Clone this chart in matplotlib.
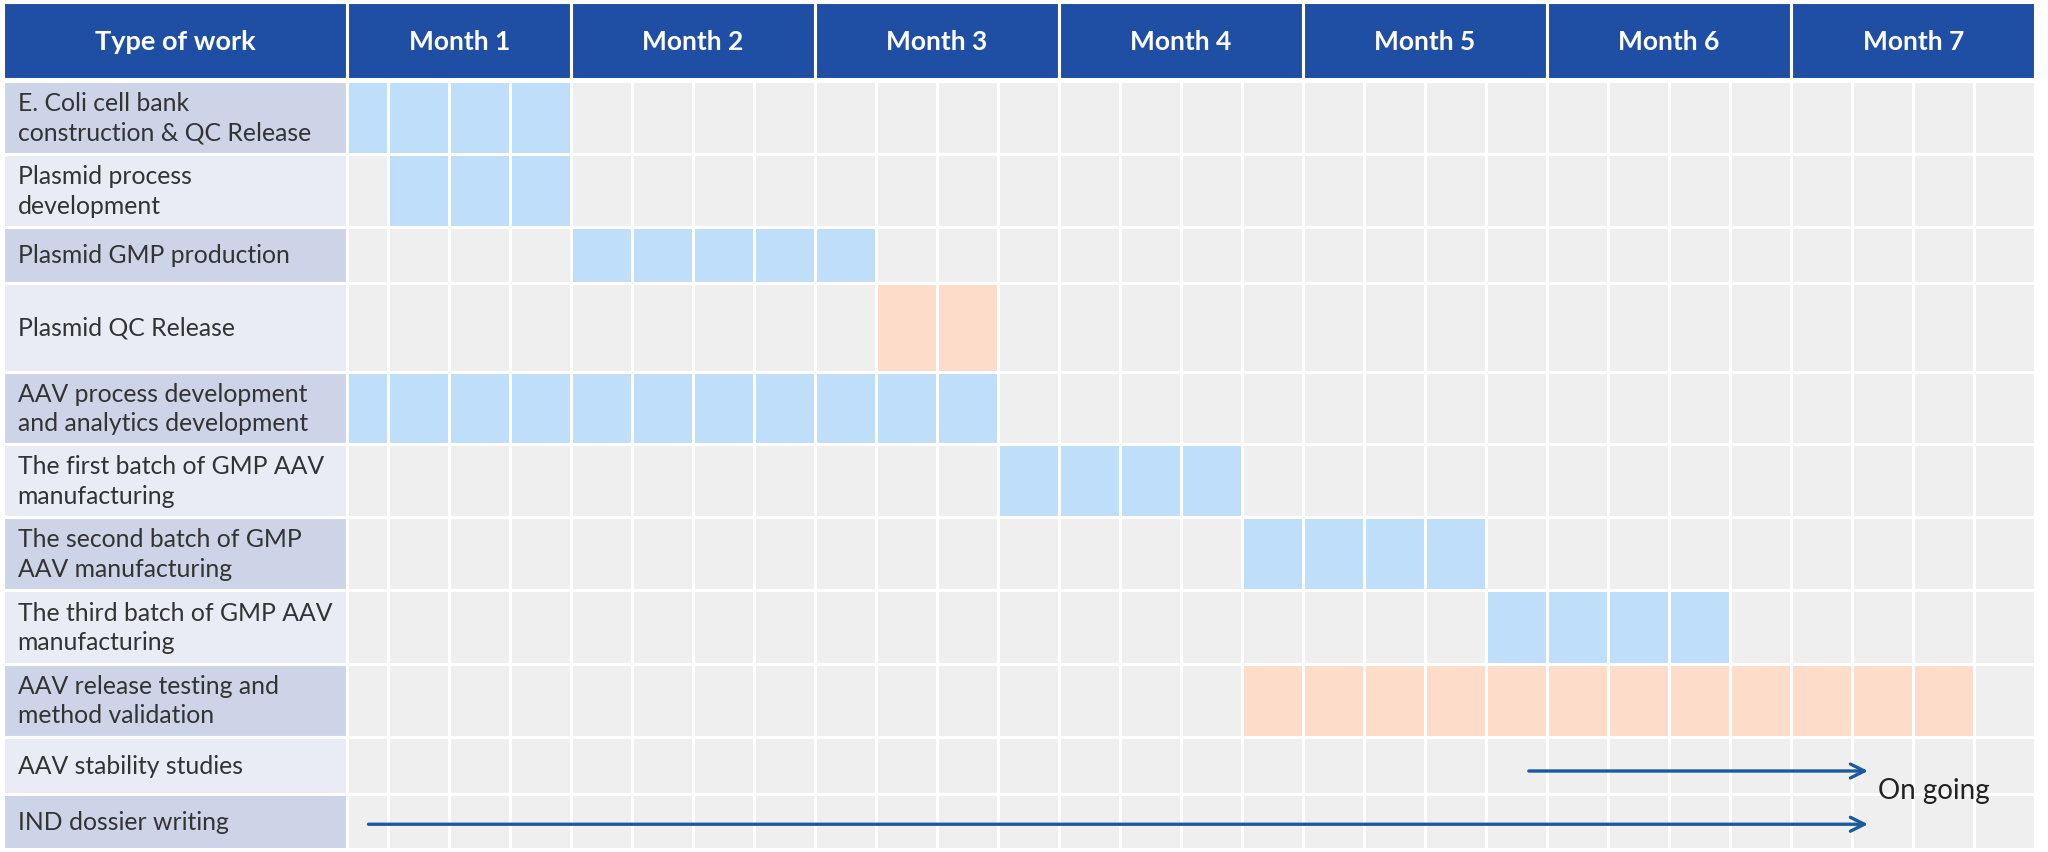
import matplotlib
matplotlib.use("Agg")
import matplotlib.pyplot as plt

plt.rcParams['font.family'] = ['Lato', 'DejaVu Sans']

# data
months = ["Month 1", "Month 2", "Month 3", "Month 4", "Month 5", "Month 6", "Month 7"]
tasks = [
    "E. Coli cell bank\nconstruction & QC Release",
    "Plasmid process\ndevelopment",
    "Plasmid GMP production",
    "Plasmid QC Release",
    "AAV process development\nand analytics development",
    "The first batch of GMP AAV\nmanufacturing",
    "The second batch of GMP\nAAV manufacturing",
    "The third batch of GMP AAV\nmanufacturing",
    "AAV release testing and\nmethod validation",
    "AAV stability studies",
    "IND dossier writing",
]
# shaded weeks (1-based, inclusive); None = no block
bar_first = [1, 2, 5, 10, 1, 12, 16, 20, 16, None, None]
bar_last = [4, 4, 9, 11, 11, 15, 19, 23, 27, None, None]
bar_kind = ["plan", "plan", "plan", "qc", "plan", "plan", "plan", "plan", "qc", None, None]
# arrows, in week units
arrow_rows = [9, 10]
arrow_start = [19.7, 0.68]
arrow_end = [25.26, 25.26]
note_text = "On going"

# layout (pixel rows, week columns)
n_weeks = 4 * len(months)
row_h = [73.5, 73, 55.5, 89, 72.5, 73, 73, 73.5, 73, 57, 55.5]
head_top, head_bot = 2, 79
first_left = 0.335
lab_left = -5.31

c_head = "#1f4fa4"
c_lab = ["#cdd4e8", "#e9ecf5"]
c_cell = "#efefef"
c_fill = {"plan": "#bedefa", "qc": "#fddcca"}
c_arrow = "#1b5a9d"
gap = 2.2

fig = plt.figure(figsize=(20.48, 8.52), dpi=100)
ax = fig.add_axes([0, 0, 1, 1])
ax.set_xlim(-5.36, 28.21)
ax.set_ylim(852, 0)
ax.axis('off')

# header
hc = (head_top + head_bot) / 2
hh = head_bot - head_top
ax.barh(hc, first_left - lab_left, left=lab_left, height=hh, color=c_head,
        edgecolor="white", linewidth=gap)
ax.text((lab_left + first_left) / 2, hc + 1, "Type of work", color="white",
        fontsize=19.5, fontweight="bold", ha="center", va="center")
for m, name in enumerate(months):
    left = first_left if m == 0 else 4 * m
    right = 4 * (m + 1)
    ax.barh(hc, right - left, left=left, height=hh, color=c_head,
            edgecolor="white", linewidth=gap)
    ax.text((left + right) / 2, hc + 1, name, color="white", fontsize=19,
            fontweight="bold", ha="center", va="center")

# rows
top = 80.5
centers = []
for i, label in enumerate(tasks):
    h = row_h[i]
    yc = top + h / 2
    centers.append(yc)
    ax.barh(yc, first_left - lab_left, left=lab_left, height=h,
            color=c_lab[i % 2], edgecolor="white", linewidth=gap)
    ax.text(-5.07, yc + 1, label, fontsize=17.8, color="#333333",
            ha="left", va="center", linespacing=1.32)
    lefts, widths, colors = [], [], []
    for w in range(1, n_weeks + 1):
        x0 = first_left if w == 1 else w - 1
        lefts.append(x0)
        widths.append(w - x0)
        if bar_first[i] is not None and bar_first[i] <= w <= bar_last[i]:
            colors.append(c_fill[bar_kind[i]])
        else:
            colors.append(c_cell)
    ax.barh([yc] * n_weeks, widths, left=lefts, height=h, color=colors,
            edgecolor="white", linewidth=gap)
    top += h

for r, x0, x1 in zip(arrow_rows, arrow_start, arrow_end):
    y = centers[r] + (6 if r == 9 else 3)
    ax.annotate("", xy=(x1, y), xytext=(x0, y),
                arrowprops=dict(arrowstyle="->,head_length=1.0,head_width=0.5",
                                color=c_arrow, lw=2.4, shrinkA=0, shrinkB=0))

ax.text(25.42, (centers[9] + centers[10]) / 2 - 2, note_text, fontsize=20,
        color="#222222", ha="left", va="center")

fig.savefig("out.png", dpi=100)
